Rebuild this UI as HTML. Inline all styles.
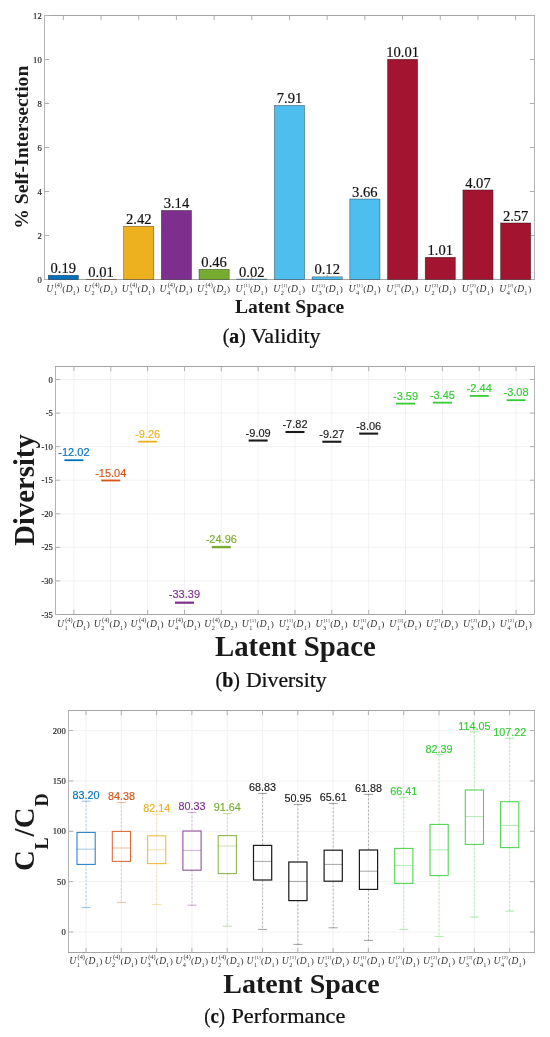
<!DOCTYPE html>
<html lang="en"><head><meta charset="utf-8"><title>Latent space comparison</title>
<style>html,body{margin:0;padding:0;background:#fff}svg{display:block}text{white-space:pre}</style>
</head><body>
<svg width="550" height="1037" viewBox="0 0 550 1037" font-family='"Liberation Serif", "DejaVu Serif", serif'>
<rect width="550" height="1037" fill="#fff"/>
<g id="c1">
<path d="M44.5 15.0V280.0M534.5 15.0V280.0" stroke="#b4b4b4" stroke-width="1" fill="none"/><path d="M44.0 15.5H535.0M44.0 279.5H535.0" stroke="#a4a4a4" stroke-width="1" fill="none"/>
<path d="M63.35 279.5v-4.7M63.35 15.5v4.7M101.04 279.5v-4.7M101.04 15.5v4.7M138.73 279.5v-4.7M138.73 15.5v4.7M176.42 279.5v-4.7M176.42 15.5v4.7M214.12 279.5v-4.7M214.12 15.5v4.7M251.81 279.5v-4.7M251.81 15.5v4.7M289.50 279.5v-4.7M289.50 15.5v4.7M327.19 279.5v-4.7M327.19 15.5v4.7M364.88 279.5v-4.7M364.88 15.5v4.7M402.58 279.5v-4.7M402.58 15.5v4.7M440.27 279.5v-4.7M440.27 15.5v4.7M477.96 279.5v-4.7M477.96 15.5v4.7M515.65 279.5v-4.7M515.65 15.5v4.7M44.5 279.50h4.7M534.5 279.50h-4.7M44.5 235.50h4.7M534.5 235.50h-4.7M44.5 191.50h4.7M534.5 191.50h-4.7M44.5 147.50h4.7M534.5 147.50h-4.7M44.5 103.50h4.7M534.5 103.50h-4.7M44.5 59.50h4.7M534.5 59.50h-4.7M44.5 15.50h4.7M534.5 15.50h-4.7" stroke="#b0b0b0" stroke-width="1" fill="none"/>
<rect x="48.27" y="275.32" width="30.15" height="4.18" fill="#0072BD" stroke="#000" stroke-opacity="0.55" stroke-width="0.6"/>
<text x="63.35" y="272.92" font-size="14.6" text-anchor="middle" fill="#111" stroke="#111" stroke-width="0.2">0.19</text>
<rect x="85.96" y="279.28" width="30.15" height="0.22" fill="#D95319" stroke="#000" stroke-opacity="0.55" stroke-width="0.6"/>
<text x="101.04" y="276.88" font-size="14.6" text-anchor="middle" fill="#111" stroke="#111" stroke-width="0.2">0.01</text>
<rect x="123.65" y="226.26" width="30.15" height="53.24" fill="#EDB120" stroke="#000" stroke-opacity="0.55" stroke-width="0.6"/>
<text x="138.73" y="223.86" font-size="14.6" text-anchor="middle" fill="#111" stroke="#111" stroke-width="0.2">2.42</text>
<rect x="161.35" y="210.42" width="30.15" height="69.08" fill="#7E2F8E" stroke="#000" stroke-opacity="0.55" stroke-width="0.6"/>
<text x="176.42" y="208.02" font-size="14.6" text-anchor="middle" fill="#111" stroke="#111" stroke-width="0.2">3.14</text>
<rect x="199.04" y="269.38" width="30.15" height="10.12" fill="#77AC30" stroke="#000" stroke-opacity="0.55" stroke-width="0.6"/>
<text x="214.12" y="266.98" font-size="14.6" text-anchor="middle" fill="#111" stroke="#111" stroke-width="0.2">0.46</text>
<rect x="236.73" y="279.06" width="30.15" height="0.44" fill="#4DBEEE" stroke="#000" stroke-opacity="0.55" stroke-width="0.6"/>
<text x="251.81" y="276.66" font-size="14.6" text-anchor="middle" fill="#111" stroke="#111" stroke-width="0.2">0.02</text>
<rect x="274.42" y="105.48" width="30.15" height="174.02" fill="#4DBEEE" stroke="#000" stroke-opacity="0.55" stroke-width="0.6"/>
<text x="289.50" y="103.08" font-size="14.6" text-anchor="middle" fill="#111" stroke="#111" stroke-width="0.2">7.91</text>
<rect x="312.12" y="276.86" width="30.15" height="2.64" fill="#4DBEEE" stroke="#000" stroke-opacity="0.55" stroke-width="0.6"/>
<text x="327.19" y="274.46" font-size="14.6" text-anchor="middle" fill="#111" stroke="#111" stroke-width="0.2">0.12</text>
<rect x="349.81" y="198.98" width="30.15" height="80.52" fill="#4DBEEE" stroke="#000" stroke-opacity="0.55" stroke-width="0.6"/>
<text x="364.88" y="196.58" font-size="14.6" text-anchor="middle" fill="#111" stroke="#111" stroke-width="0.2">3.66</text>
<rect x="387.50" y="59.28" width="30.15" height="220.22" fill="#A2142F" stroke="#000" stroke-opacity="0.55" stroke-width="0.6"/>
<text x="402.58" y="56.88" font-size="14.6" text-anchor="middle" fill="#111" stroke="#111" stroke-width="0.2">10.01</text>
<rect x="425.19" y="257.28" width="30.15" height="22.22" fill="#A2142F" stroke="#000" stroke-opacity="0.55" stroke-width="0.6"/>
<text x="440.27" y="254.88" font-size="14.6" text-anchor="middle" fill="#111" stroke="#111" stroke-width="0.2">1.01</text>
<rect x="462.88" y="189.96" width="30.15" height="89.54" fill="#A2142F" stroke="#000" stroke-opacity="0.55" stroke-width="0.6"/>
<text x="477.96" y="187.56" font-size="14.6" text-anchor="middle" fill="#111" stroke="#111" stroke-width="0.2">4.07</text>
<rect x="500.58" y="222.96" width="30.15" height="56.54" fill="#A2142F" stroke="#000" stroke-opacity="0.55" stroke-width="0.6"/>
<text x="515.65" y="220.56" font-size="14.6" text-anchor="middle" fill="#111" stroke="#111" stroke-width="0.2">2.57</text>
<g fill="#262626" stroke="#262626" stroke-width="0.18">
<text x="41.70" y="282.50" font-size="8.6" text-anchor="end">0</text>
<text x="41.70" y="238.50" font-size="8.6" text-anchor="end">2</text>
<text x="41.70" y="194.50" font-size="8.6" text-anchor="end">4</text>
<text x="41.70" y="150.50" font-size="8.6" text-anchor="end">6</text>
<text x="41.70" y="106.50" font-size="8.6" text-anchor="end">8</text>
<text x="41.70" y="62.50" font-size="8.6" text-anchor="end">10</text>
<text x="41.70" y="18.50" font-size="8.6" text-anchor="end">12</text>
<g stroke="none" fill="#303030"><text x="46.35" y="292.30" font-size="9.6" font-style="italic">U</text><text x="53.85" y="294.60" font-size="6.3">1</text><text x="54.65" y="286.70" font-size="6.3">(4)</text><text x="62.15" y="292.30" font-size="9.2">(</text><text x="65.65" y="292.30" font-size="9.5" font-style="italic">D</text><text x="72.55" y="294.60" font-size="6.3">1</text><text x="76.25" y="292.30" font-size="9.2">)</text></g>
<g stroke="none" fill="#303030"><text x="84.04" y="292.30" font-size="9.6" font-style="italic">U</text><text x="91.54" y="294.60" font-size="6.3">2</text><text x="92.34" y="286.70" font-size="6.3">(4)</text><text x="99.84" y="292.30" font-size="9.2">(</text><text x="103.34" y="292.30" font-size="9.5" font-style="italic">D</text><text x="110.24" y="294.60" font-size="6.3">1</text><text x="113.94" y="292.30" font-size="9.2">)</text></g>
<g stroke="none" fill="#303030"><text x="121.73" y="292.30" font-size="9.6" font-style="italic">U</text><text x="129.23" y="294.60" font-size="6.3">3</text><text x="130.03" y="286.70" font-size="6.3">(4)</text><text x="137.53" y="292.30" font-size="9.2">(</text><text x="141.03" y="292.30" font-size="9.5" font-style="italic">D</text><text x="147.93" y="294.60" font-size="6.3">1</text><text x="151.63" y="292.30" font-size="9.2">)</text></g>
<g stroke="none" fill="#303030"><text x="159.42" y="292.30" font-size="9.6" font-style="italic">U</text><text x="166.92" y="294.60" font-size="6.3">4</text><text x="167.72" y="286.70" font-size="6.3">(4)</text><text x="175.22" y="292.30" font-size="9.2">(</text><text x="178.72" y="292.30" font-size="9.5" font-style="italic">D</text><text x="185.62" y="294.60" font-size="6.3">1</text><text x="189.32" y="292.30" font-size="9.2">)</text></g>
<g stroke="none" fill="#303030"><text x="197.12" y="292.30" font-size="9.6" font-style="italic">U</text><text x="204.62" y="294.60" font-size="6.3">2</text><text x="205.42" y="286.70" font-size="6.3">(4)</text><text x="212.92" y="292.30" font-size="9.2">(</text><text x="216.42" y="292.30" font-size="9.5" font-style="italic">D</text><text x="223.32" y="294.60" font-size="6.3">2</text><text x="227.02" y="292.30" font-size="9.2">)</text></g>
<g stroke="none" fill="#303030"><text x="235.51" y="292.30" font-size="9.6" font-style="italic">U</text><text x="243.01" y="294.60" font-size="6.3">1</text><text x="243.81" y="286.70" font-size="5.0">[1]</text><text x="250.11" y="292.30" font-size="9.2">(</text><text x="253.41" y="292.30" font-size="9.5" font-style="italic">D</text><text x="260.51" y="294.60" font-size="6.3">1</text><text x="264.41" y="292.30" font-size="9.2">)</text></g>
<g stroke="none" fill="#303030"><text x="273.20" y="292.30" font-size="9.6" font-style="italic">U</text><text x="280.70" y="294.60" font-size="6.3">2</text><text x="281.50" y="286.70" font-size="5.0">[1]</text><text x="287.80" y="292.30" font-size="9.2">(</text><text x="291.10" y="292.30" font-size="9.5" font-style="italic">D</text><text x="298.20" y="294.60" font-size="6.3">1</text><text x="302.10" y="292.30" font-size="9.2">)</text></g>
<g stroke="none" fill="#303030"><text x="310.89" y="292.30" font-size="9.6" font-style="italic">U</text><text x="318.39" y="294.60" font-size="6.3">3</text><text x="319.19" y="286.70" font-size="5.0">[1]</text><text x="325.49" y="292.30" font-size="9.2">(</text><text x="328.79" y="292.30" font-size="9.5" font-style="italic">D</text><text x="335.89" y="294.60" font-size="6.3">1</text><text x="339.79" y="292.30" font-size="9.2">)</text></g>
<g stroke="none" fill="#303030"><text x="348.58" y="292.30" font-size="9.6" font-style="italic">U</text><text x="356.08" y="294.60" font-size="6.3">4</text><text x="356.88" y="286.70" font-size="5.0">[1]</text><text x="363.18" y="292.30" font-size="9.2">(</text><text x="366.48" y="292.30" font-size="9.5" font-style="italic">D</text><text x="373.58" y="294.60" font-size="6.3">1</text><text x="377.48" y="292.30" font-size="9.2">)</text></g>
<g stroke="none" fill="#303030"><text x="386.28" y="292.30" font-size="9.6" font-style="italic">U</text><text x="393.78" y="294.60" font-size="6.3">1</text><text x="394.58" y="286.70" font-size="5.0">[2]</text><text x="400.88" y="292.30" font-size="9.2">(</text><text x="404.18" y="292.30" font-size="9.5" font-style="italic">D</text><text x="411.28" y="294.60" font-size="6.3">1</text><text x="415.18" y="292.30" font-size="9.2">)</text></g>
<g stroke="none" fill="#303030"><text x="423.97" y="292.30" font-size="9.6" font-style="italic">U</text><text x="431.47" y="294.60" font-size="6.3">2</text><text x="432.27" y="286.70" font-size="5.0">[2]</text><text x="438.57" y="292.30" font-size="9.2">(</text><text x="441.87" y="292.30" font-size="9.5" font-style="italic">D</text><text x="448.97" y="294.60" font-size="6.3">1</text><text x="452.87" y="292.30" font-size="9.2">)</text></g>
<g stroke="none" fill="#303030"><text x="461.66" y="292.30" font-size="9.6" font-style="italic">U</text><text x="469.16" y="294.60" font-size="6.3">3</text><text x="469.96" y="286.70" font-size="5.0">[2]</text><text x="476.26" y="292.30" font-size="9.2">(</text><text x="479.56" y="292.30" font-size="9.5" font-style="italic">D</text><text x="486.66" y="294.60" font-size="6.3">1</text><text x="490.56" y="292.30" font-size="9.2">)</text></g>
<g stroke="none" fill="#303030"><text x="499.35" y="292.30" font-size="9.6" font-style="italic">U</text><text x="506.85" y="294.60" font-size="6.3">4</text><text x="507.65" y="286.70" font-size="5.0">[2]</text><text x="513.95" y="292.30" font-size="9.2">(</text><text x="517.25" y="292.30" font-size="9.5" font-style="italic">D</text><text x="524.35" y="294.60" font-size="6.3">1</text><text x="528.25" y="292.30" font-size="9.2">)</text></g>
</g>
<text transform="translate(28.4,147.2) rotate(-90)" font-size="19.65" font-weight="bold" text-anchor="middle" fill="#1a1a1a">% Self-Intersection</text>
<text x="289.6" y="312.6" font-size="19.6" font-weight="bold" text-anchor="middle" fill="#1a1a1a">Latent Space</text>
<text transform="translate(222.70,342.70) scale(0.9721,1)" font-size="20.3" fill="#111" stroke="#111" stroke-width="0.25">(<tspan font-weight="bold">a</tspan>)</text>
<text transform="translate(250.90,342.70) scale(1.0855,1)" font-size="20.3" fill="#111" stroke="#111" stroke-width="0.25">Validity</text>
</g>
<g id="c2">
<path d="M73.92 366.5V614.5M110.77 366.5V614.5M147.62 366.5V614.5M184.46 366.5V614.5M221.31 366.5V614.5M258.15 366.5V614.5M295.00 366.5V614.5M331.85 366.5V614.5M368.69 366.5V614.5M405.54 366.5V614.5M442.38 366.5V614.5M479.23 366.5V614.5M516.08 366.5V614.5M55.5 379.50H534.5M55.5 413.07H534.5M55.5 446.64H534.5M55.5 480.21H534.5M55.5 513.79H534.5M55.5 547.36H534.5M55.5 580.93H534.5M55.5 614.50H534.5" stroke="#f0f0f0" stroke-width="0.9" fill="none"/>
<path d="M55.5 366.0V615.0M534.5 366.0V615.0" stroke="#b4b4b4" stroke-width="1" fill="none"/><path d="M55.0 366.5H535.0M55.0 614.5H535.0" stroke="#a4a4a4" stroke-width="1" fill="none"/>
<path d="M73.92 614.5v-4.7M73.92 366.5v4.7M110.77 614.5v-4.7M110.77 366.5v4.7M147.62 614.5v-4.7M147.62 366.5v4.7M184.46 614.5v-4.7M184.46 366.5v4.7M221.31 614.5v-4.7M221.31 366.5v4.7M258.15 614.5v-4.7M258.15 366.5v4.7M295.00 614.5v-4.7M295.00 366.5v4.7M331.85 614.5v-4.7M331.85 366.5v4.7M368.69 614.5v-4.7M368.69 366.5v4.7M405.54 614.5v-4.7M405.54 366.5v4.7M442.38 614.5v-4.7M442.38 366.5v4.7M479.23 614.5v-4.7M479.23 366.5v4.7M516.08 614.5v-4.7M516.08 366.5v4.7M55.5 379.50h4.7M534.5 379.50h-4.7M55.5 413.07h4.7M534.5 413.07h-4.7M55.5 446.64h4.7M534.5 446.64h-4.7M55.5 480.21h4.7M534.5 480.21h-4.7M55.5 513.79h4.7M534.5 513.79h-4.7M55.5 547.36h4.7M534.5 547.36h-4.7M55.5 580.93h4.7M534.5 580.93h-4.7M55.5 614.50h4.7M534.5 614.50h-4.7" stroke="#b0b0b0" stroke-width="1" fill="none"/>
<line x1="64.42" x2="83.42" y1="460.21" y2="460.21" stroke="#0072BD" stroke-width="1.8"/>
<text x="73.92" y="456.41" font-family='"Liberation Sans", "DejaVu Sans", sans-serif' font-size="11" text-anchor="middle" fill="#0072BD" stroke="#0072BD" stroke-width="0.15">-12.02</text>
<line x1="101.27" x2="120.27" y1="480.48" y2="480.48" stroke="#D95319" stroke-width="1.8"/>
<text x="110.77" y="476.68" font-family='"Liberation Sans", "DejaVu Sans", sans-serif' font-size="11" text-anchor="middle" fill="#D95319" stroke="#D95319" stroke-width="0.15">-15.04</text>
<line x1="138.12" x2="157.12" y1="441.67" y2="441.67" stroke="#EDB120" stroke-width="1.8"/>
<text x="147.62" y="437.87" font-family='"Liberation Sans", "DejaVu Sans", sans-serif' font-size="11" text-anchor="middle" fill="#EDB120" stroke="#EDB120" stroke-width="0.15">-9.26</text>
<line x1="174.96" x2="193.96" y1="602.69" y2="602.69" stroke="#7E2F8E" stroke-width="2.2"/>
<text x="184.46" y="598.39" font-family='"Liberation Sans", "DejaVu Sans", sans-serif' font-size="11" text-anchor="middle" fill="#7E2F8E" stroke="#7E2F8E" stroke-width="0.15">-33.39</text>
<line x1="211.81" x2="230.81" y1="547.09" y2="547.09" stroke="#77AC30" stroke-width="2.4"/>
<text x="221.31" y="543.29" font-family='"Liberation Sans", "DejaVu Sans", sans-serif' font-size="11" text-anchor="middle" fill="#77AC30" stroke="#77AC30" stroke-width="0.15">-24.96</text>
<line x1="248.65" x2="267.65" y1="440.53" y2="440.53" stroke="#1a1a1a" stroke-width="2.1"/>
<text x="258.15" y="436.73" font-family='"Liberation Sans", "DejaVu Sans", sans-serif' font-size="11" text-anchor="middle" fill="#1a1a1a" stroke="#1a1a1a" stroke-width="0.15">-9.09</text>
<line x1="285.50" x2="304.50" y1="432.01" y2="432.01" stroke="#1a1a1a" stroke-width="2.1"/>
<text x="295.00" y="428.21" font-family='"Liberation Sans", "DejaVu Sans", sans-serif' font-size="11" text-anchor="middle" fill="#1a1a1a" stroke="#1a1a1a" stroke-width="0.15">-7.82</text>
<line x1="322.35" x2="341.35" y1="441.74" y2="441.74" stroke="#1a1a1a" stroke-width="2.1"/>
<text x="331.85" y="437.94" font-family='"Liberation Sans", "DejaVu Sans", sans-serif' font-size="11" text-anchor="middle" fill="#1a1a1a" stroke="#1a1a1a" stroke-width="0.15">-9.27</text>
<line x1="359.19" x2="378.19" y1="433.62" y2="433.62" stroke="#1a1a1a" stroke-width="2.1"/>
<text x="368.69" y="429.82" font-family='"Liberation Sans", "DejaVu Sans", sans-serif' font-size="11" text-anchor="middle" fill="#1a1a1a" stroke="#1a1a1a" stroke-width="0.15">-8.06</text>
<line x1="396.04" x2="415.04" y1="403.60" y2="403.60" stroke="#33CC33" stroke-width="1.8"/>
<text x="405.54" y="399.80" font-family='"Liberation Sans", "DejaVu Sans", sans-serif' font-size="11" text-anchor="middle" fill="#33CC33" stroke="#33CC33" stroke-width="0.15">-3.59</text>
<line x1="432.88" x2="451.88" y1="402.66" y2="402.66" stroke="#33CC33" stroke-width="1.8"/>
<text x="442.38" y="398.86" font-family='"Liberation Sans", "DejaVu Sans", sans-serif' font-size="11" text-anchor="middle" fill="#33CC33" stroke="#33CC33" stroke-width="0.15">-3.45</text>
<line x1="469.73" x2="488.73" y1="395.88" y2="395.88" stroke="#33CC33" stroke-width="1.8"/>
<text x="479.23" y="392.08" font-family='"Liberation Sans", "DejaVu Sans", sans-serif' font-size="11" text-anchor="middle" fill="#33CC33" stroke="#33CC33" stroke-width="0.15">-2.44</text>
<line x1="506.58" x2="525.58" y1="400.18" y2="400.18" stroke="#33CC33" stroke-width="1.8"/>
<text x="516.08" y="396.38" font-family='"Liberation Sans", "DejaVu Sans", sans-serif' font-size="11" text-anchor="middle" fill="#33CC33" stroke="#33CC33" stroke-width="0.15">-3.08</text>
<g fill="#262626" stroke="#262626" stroke-width="0.18">
<text x="52.90" y="382.50" font-size="8.6" text-anchor="end">0</text>
<text x="52.90" y="416.07" font-size="8.6" text-anchor="end">-5</text>
<text x="52.90" y="449.64" font-size="8.6" text-anchor="end">-10</text>
<text x="52.90" y="483.21" font-size="8.6" text-anchor="end">-15</text>
<text x="52.90" y="516.79" font-size="8.6" text-anchor="end">-20</text>
<text x="52.90" y="550.36" font-size="8.6" text-anchor="end">-25</text>
<text x="52.90" y="583.93" font-size="8.6" text-anchor="end">-30</text>
<text x="52.90" y="617.50" font-size="8.6" text-anchor="end">-35</text>
<g stroke="none" fill="#303030"><text x="56.92" y="627.20" font-size="9.6" font-style="italic">U</text><text x="64.42" y="629.50" font-size="6.3">1</text><text x="65.22" y="621.60" font-size="6.3">(4)</text><text x="72.72" y="627.20" font-size="9.2">(</text><text x="76.22" y="627.20" font-size="9.5" font-style="italic">D</text><text x="83.12" y="629.50" font-size="6.3">1</text><text x="86.82" y="627.20" font-size="9.2">)</text></g>
<g stroke="none" fill="#303030"><text x="93.77" y="627.20" font-size="9.6" font-style="italic">U</text><text x="101.27" y="629.50" font-size="6.3">2</text><text x="102.07" y="621.60" font-size="6.3">(4)</text><text x="109.57" y="627.20" font-size="9.2">(</text><text x="113.07" y="627.20" font-size="9.5" font-style="italic">D</text><text x="119.97" y="629.50" font-size="6.3">1</text><text x="123.67" y="627.20" font-size="9.2">)</text></g>
<g stroke="none" fill="#303030"><text x="130.62" y="627.20" font-size="9.6" font-style="italic">U</text><text x="138.12" y="629.50" font-size="6.3">3</text><text x="138.92" y="621.60" font-size="6.3">(4)</text><text x="146.42" y="627.20" font-size="9.2">(</text><text x="149.92" y="627.20" font-size="9.5" font-style="italic">D</text><text x="156.82" y="629.50" font-size="6.3">1</text><text x="160.52" y="627.20" font-size="9.2">)</text></g>
<g stroke="none" fill="#303030"><text x="167.46" y="627.20" font-size="9.6" font-style="italic">U</text><text x="174.96" y="629.50" font-size="6.3">4</text><text x="175.76" y="621.60" font-size="6.3">(4)</text><text x="183.26" y="627.20" font-size="9.2">(</text><text x="186.76" y="627.20" font-size="9.5" font-style="italic">D</text><text x="193.66" y="629.50" font-size="6.3">1</text><text x="197.36" y="627.20" font-size="9.2">)</text></g>
<g stroke="none" fill="#303030"><text x="204.31" y="627.20" font-size="9.6" font-style="italic">U</text><text x="211.81" y="629.50" font-size="6.3">2</text><text x="212.61" y="621.60" font-size="6.3">(4)</text><text x="220.11" y="627.20" font-size="9.2">(</text><text x="223.61" y="627.20" font-size="9.5" font-style="italic">D</text><text x="230.51" y="629.50" font-size="6.3">2</text><text x="234.21" y="627.20" font-size="9.2">)</text></g>
<g stroke="none" fill="#303030"><text x="241.85" y="627.20" font-size="9.6" font-style="italic">U</text><text x="249.35" y="629.50" font-size="6.3">1</text><text x="250.15" y="621.60" font-size="5.0">[1]</text><text x="256.45" y="627.20" font-size="9.2">(</text><text x="259.75" y="627.20" font-size="9.5" font-style="italic">D</text><text x="266.85" y="629.50" font-size="6.3">1</text><text x="270.75" y="627.20" font-size="9.2">)</text></g>
<g stroke="none" fill="#303030"><text x="278.70" y="627.20" font-size="9.6" font-style="italic">U</text><text x="286.20" y="629.50" font-size="6.3">2</text><text x="287.00" y="621.60" font-size="5.0">[1]</text><text x="293.30" y="627.20" font-size="9.2">(</text><text x="296.60" y="627.20" font-size="9.5" font-style="italic">D</text><text x="303.70" y="629.50" font-size="6.3">1</text><text x="307.60" y="627.20" font-size="9.2">)</text></g>
<g stroke="none" fill="#303030"><text x="315.55" y="627.20" font-size="9.6" font-style="italic">U</text><text x="323.05" y="629.50" font-size="6.3">3</text><text x="323.85" y="621.60" font-size="5.0">[1]</text><text x="330.15" y="627.20" font-size="9.2">(</text><text x="333.45" y="627.20" font-size="9.5" font-style="italic">D</text><text x="340.55" y="629.50" font-size="6.3">1</text><text x="344.45" y="627.20" font-size="9.2">)</text></g>
<g stroke="none" fill="#303030"><text x="352.39" y="627.20" font-size="9.6" font-style="italic">U</text><text x="359.89" y="629.50" font-size="6.3">4</text><text x="360.69" y="621.60" font-size="5.0">[1]</text><text x="366.99" y="627.20" font-size="9.2">(</text><text x="370.29" y="627.20" font-size="9.5" font-style="italic">D</text><text x="377.39" y="629.50" font-size="6.3">1</text><text x="381.29" y="627.20" font-size="9.2">)</text></g>
<g stroke="none" fill="#303030"><text x="389.24" y="627.20" font-size="9.6" font-style="italic">U</text><text x="396.74" y="629.50" font-size="6.3">1</text><text x="397.54" y="621.60" font-size="5.0">[2]</text><text x="403.84" y="627.20" font-size="9.2">(</text><text x="407.14" y="627.20" font-size="9.5" font-style="italic">D</text><text x="414.24" y="629.50" font-size="6.3">1</text><text x="418.14" y="627.20" font-size="9.2">)</text></g>
<g stroke="none" fill="#303030"><text x="426.08" y="627.20" font-size="9.6" font-style="italic">U</text><text x="433.58" y="629.50" font-size="6.3">2</text><text x="434.38" y="621.60" font-size="5.0">[2]</text><text x="440.68" y="627.20" font-size="9.2">(</text><text x="443.98" y="627.20" font-size="9.5" font-style="italic">D</text><text x="451.08" y="629.50" font-size="6.3">1</text><text x="454.98" y="627.20" font-size="9.2">)</text></g>
<g stroke="none" fill="#303030"><text x="462.93" y="627.20" font-size="9.6" font-style="italic">U</text><text x="470.43" y="629.50" font-size="6.3">3</text><text x="471.23" y="621.60" font-size="5.0">[2]</text><text x="477.53" y="627.20" font-size="9.2">(</text><text x="480.83" y="627.20" font-size="9.5" font-style="italic">D</text><text x="487.93" y="629.50" font-size="6.3">1</text><text x="491.83" y="627.20" font-size="9.2">)</text></g>
<g stroke="none" fill="#303030"><text x="499.78" y="627.20" font-size="9.6" font-style="italic">U</text><text x="507.28" y="629.50" font-size="6.3">4</text><text x="508.08" y="621.60" font-size="5.0">[2]</text><text x="514.38" y="627.20" font-size="9.2">(</text><text x="517.68" y="627.20" font-size="9.5" font-style="italic">D</text><text x="524.78" y="629.50" font-size="6.3">1</text><text x="528.68" y="627.20" font-size="9.2">)</text></g>
</g>
<text transform="translate(33.6,490) rotate(-90)" font-size="28.7" font-weight="bold" text-anchor="middle" fill="#1a1a1a">Diversity</text>
<text x="295.4" y="656" font-size="28.8" font-weight="bold" text-anchor="middle" fill="#1a1a1a">Latent Space</text>
<text transform="translate(215.60,686.80) scale(0.9839,1)" font-size="20.3" fill="#111" stroke="#111" stroke-width="0.25">(<tspan font-weight="bold">b</tspan>)</text>
<text transform="translate(245.90,686.80) scale(1.0693,1)" font-size="20.3" fill="#111" stroke="#111" stroke-width="0.25">Diversity</text>
</g>
<g id="c3">
<path d="M86.00 710.5V952.5M121.30 710.5V952.5M156.60 710.5V952.5M191.90 710.5V952.5M227.20 710.5V952.5M262.50 710.5V952.5M297.80 710.5V952.5M333.10 710.5V952.5M368.40 710.5V952.5M403.70 710.5V952.5M439.00 710.5V952.5M474.30 710.5V952.5M509.60 710.5V952.5M68.5 932.00H534.5M68.5 881.65H534.5M68.5 831.30H534.5M68.5 780.95H534.5M68.5 730.60H534.5" stroke="#f0f0f0" stroke-width="0.9" fill="none"/>
<path d="M68.5 710.0V953.0M534.5 710.0V953.0" stroke="#b4b4b4" stroke-width="1" fill="none"/><path d="M68.0 710.5H535.0M68.0 952.5H535.0" stroke="#a4a4a4" stroke-width="1" fill="none"/>
<path d="M86.00 952.5v-4.7M86.00 710.5v4.7M121.30 952.5v-4.7M121.30 710.5v4.7M156.60 952.5v-4.7M156.60 710.5v4.7M191.90 952.5v-4.7M191.90 710.5v4.7M227.20 952.5v-4.7M227.20 710.5v4.7M262.50 952.5v-4.7M262.50 710.5v4.7M297.80 952.5v-4.7M297.80 710.5v4.7M333.10 952.5v-4.7M333.10 710.5v4.7M368.40 952.5v-4.7M368.40 710.5v4.7M403.70 952.5v-4.7M403.70 710.5v4.7M439.00 952.5v-4.7M439.00 710.5v4.7M474.30 952.5v-4.7M474.30 710.5v4.7M509.60 952.5v-4.7M509.60 710.5v4.7M68.5 932.00h4.7M534.5 932.00h-4.7M68.5 881.65h4.7M534.5 881.65h-4.7M68.5 831.30h4.7M534.5 831.30h-4.7M68.5 780.95h4.7M534.5 780.95h-4.7M68.5 730.60h4.7M534.5 730.60h-4.7" stroke="#b0b0b0" stroke-width="1" fill="none"/>
<path d="M86.10 801.2V832.4M86.10 864.4V907.6" stroke="#0072BD" stroke-width="0.7" stroke-dasharray="2.2 1.6" stroke-opacity="0.42" fill="none"/>
<path d="M81.60 801.2h9M81.60 907.6h9" stroke="#0072BD" stroke-width="0.7" stroke-opacity="0.6" fill="none"/>
<rect x="77.00" y="832.4" width="18.20" height="32.00" fill="none" stroke="#0072BD" stroke-width="1.05" stroke-opacity="0.88"/>
<path d="M77.00 849.2h18.20" stroke="#0072BD" stroke-width="0.7" stroke-opacity="0.55" fill="none"/>
<text x="86.10" y="799.20" font-family='"Liberation Sans", "DejaVu Sans", sans-serif' font-size="10.8" text-anchor="middle" fill="#0072BD" stroke="#0072BD" stroke-width="0.15">83.20</text>
<path d="M121.40 802.4V831.4M121.40 861.4V902.4" stroke="#D95319" stroke-width="0.7" stroke-dasharray="2.2 1.6" stroke-opacity="0.42" fill="none"/>
<path d="M116.90 802.4h9M116.90 902.4h9" stroke="#D95319" stroke-width="0.7" stroke-opacity="0.6" fill="none"/>
<rect x="112.30" y="831.4" width="18.20" height="30.00" fill="none" stroke="#D95319" stroke-width="1.05" stroke-opacity="0.88"/>
<path d="M112.30 848.0h18.20" stroke="#D95319" stroke-width="0.7" stroke-opacity="0.55" fill="none"/>
<text x="121.40" y="800.20" font-family='"Liberation Sans", "DejaVu Sans", sans-serif' font-size="10.8" text-anchor="middle" fill="#D95319" stroke="#D95319" stroke-width="0.15">84.38</text>
<path d="M156.70 814.2V835.8M156.70 863.6V904.6" stroke="#EDB120" stroke-width="0.7" stroke-dasharray="2.2 1.6" stroke-opacity="0.42" fill="none"/>
<path d="M152.20 814.2h9M152.20 904.6h9" stroke="#EDB120" stroke-width="0.7" stroke-opacity="0.6" fill="none"/>
<rect x="147.60" y="835.8" width="18.20" height="27.80" fill="none" stroke="#EDB120" stroke-width="1.05" stroke-opacity="0.88"/>
<path d="M147.60 849.8h18.20" stroke="#EDB120" stroke-width="0.7" stroke-opacity="0.55" fill="none"/>
<text x="156.70" y="811.80" font-family='"Liberation Sans", "DejaVu Sans", sans-serif' font-size="10.8" text-anchor="middle" fill="#EDB120" stroke="#EDB120" stroke-width="0.15">82.14</text>
<path d="M192.00 812.4V831.0M192.00 870.2V905.2" stroke="#7E2F8E" stroke-width="0.7" stroke-dasharray="2.2 1.6" stroke-opacity="0.42" fill="none"/>
<path d="M187.50 812.4h9M187.50 905.2h9" stroke="#7E2F8E" stroke-width="0.7" stroke-opacity="0.6" fill="none"/>
<rect x="182.90" y="831.0" width="18.20" height="39.20" fill="none" stroke="#7E2F8E" stroke-width="1.05" stroke-opacity="0.88"/>
<path d="M182.90 850.4h18.20" stroke="#7E2F8E" stroke-width="0.7" stroke-opacity="0.55" fill="none"/>
<text x="192.00" y="810.20" font-family='"Liberation Sans", "DejaVu Sans", sans-serif' font-size="10.8" text-anchor="middle" fill="#7E2F8E" stroke="#7E2F8E" stroke-width="0.15">80.33</text>
<path d="M227.30 813.6V835.6M227.30 873.6V926.2" stroke="#77AC30" stroke-width="0.7" stroke-dasharray="2.2 1.6" stroke-opacity="0.42" fill="none"/>
<path d="M222.80 813.6h9M222.80 926.2h9" stroke="#77AC30" stroke-width="0.7" stroke-opacity="0.6" fill="none"/>
<rect x="218.20" y="835.6" width="18.20" height="38.00" fill="none" stroke="#77AC30" stroke-width="1.05" stroke-opacity="0.88"/>
<path d="M218.20 846.0h18.20" stroke="#77AC30" stroke-width="0.7" stroke-opacity="0.55" fill="none"/>
<text x="227.30" y="811.20" font-family='"Liberation Sans", "DejaVu Sans", sans-serif' font-size="10.8" text-anchor="middle" fill="#77AC30" stroke="#77AC30" stroke-width="0.15">91.64</text>
<path d="M262.60 793.4V845.4M262.60 880.0V929.4" stroke="#1a1a1a" stroke-width="0.7" stroke-dasharray="2.2 1.6" stroke-opacity="0.42" fill="none"/>
<path d="M258.10 793.4h9M258.10 929.4h9" stroke="#1a1a1a" stroke-width="0.7" stroke-opacity="0.6" fill="none"/>
<rect x="253.50" y="845.4" width="18.20" height="34.60" fill="none" stroke="#1a1a1a" stroke-width="1.2" stroke-opacity="1"/>
<path d="M253.50 861.4h18.20" stroke="#1a1a1a" stroke-width="0.7" stroke-opacity="0.55" fill="none"/>
<text x="262.60" y="791.20" font-family='"Liberation Sans", "DejaVu Sans", sans-serif' font-size="10.8" text-anchor="middle" fill="#1a1a1a" stroke="#1a1a1a" stroke-width="0.15">68.83</text>
<path d="M297.90 804.4V862.0M297.90 900.6V944.4" stroke="#1a1a1a" stroke-width="0.7" stroke-dasharray="2.2 1.6" stroke-opacity="0.42" fill="none"/>
<path d="M293.40 804.4h9M293.40 944.4h9" stroke="#1a1a1a" stroke-width="0.7" stroke-opacity="0.6" fill="none"/>
<rect x="288.80" y="862.0" width="18.20" height="38.60" fill="none" stroke="#1a1a1a" stroke-width="1.2" stroke-opacity="1"/>
<path d="M288.80 881.4h18.20" stroke="#1a1a1a" stroke-width="0.7" stroke-opacity="0.55" fill="none"/>
<text x="297.90" y="802.40" font-family='"Liberation Sans", "DejaVu Sans", sans-serif' font-size="10.8" text-anchor="middle" fill="#1a1a1a" stroke="#1a1a1a" stroke-width="0.15">50.95</text>
<path d="M333.20 803.4V850.2M333.20 881.2V927.8" stroke="#1a1a1a" stroke-width="0.7" stroke-dasharray="2.2 1.6" stroke-opacity="0.42" fill="none"/>
<path d="M328.70 803.4h9M328.70 927.8h9" stroke="#1a1a1a" stroke-width="0.7" stroke-opacity="0.6" fill="none"/>
<rect x="324.10" y="850.2" width="18.20" height="31.00" fill="none" stroke="#1a1a1a" stroke-width="1.2" stroke-opacity="1"/>
<path d="M324.10 864.4h18.20" stroke="#1a1a1a" stroke-width="0.7" stroke-opacity="0.55" fill="none"/>
<text x="333.20" y="801.40" font-family='"Liberation Sans", "DejaVu Sans", sans-serif' font-size="10.8" text-anchor="middle" fill="#1a1a1a" stroke="#1a1a1a" stroke-width="0.15">65.61</text>
<path d="M368.50 794.4V850.0M368.50 889.4V940.4" stroke="#1a1a1a" stroke-width="0.7" stroke-dasharray="2.2 1.6" stroke-opacity="0.42" fill="none"/>
<path d="M364.00 794.4h9M364.00 940.4h9" stroke="#1a1a1a" stroke-width="0.7" stroke-opacity="0.6" fill="none"/>
<rect x="359.40" y="850.0" width="18.20" height="39.40" fill="none" stroke="#1a1a1a" stroke-width="1.2" stroke-opacity="1"/>
<path d="M359.40 871.2h18.20" stroke="#1a1a1a" stroke-width="0.7" stroke-opacity="0.55" fill="none"/>
<text x="368.50" y="792.20" font-family='"Liberation Sans", "DejaVu Sans", sans-serif' font-size="10.8" text-anchor="middle" fill="#1a1a1a" stroke="#1a1a1a" stroke-width="0.15">61.88</text>
<path d="M403.80 797.4V848.4M403.80 883.4V929.4" stroke="#33CC33" stroke-width="0.7" stroke-dasharray="2.2 1.6" stroke-opacity="0.42" fill="none"/>
<path d="M399.30 797.4h9M399.30 929.4h9" stroke="#33CC33" stroke-width="0.7" stroke-opacity="0.6" fill="none"/>
<rect x="394.70" y="848.4" width="18.20" height="35.00" fill="none" stroke="#33CC33" stroke-width="1.05" stroke-opacity="0.88"/>
<path d="M394.70 865.6h18.20" stroke="#33CC33" stroke-width="0.7" stroke-opacity="0.55" fill="none"/>
<text x="403.80" y="795.20" font-family='"Liberation Sans", "DejaVu Sans", sans-serif' font-size="10.8" text-anchor="middle" fill="#33CC33" stroke="#33CC33" stroke-width="0.15">66.41</text>
<path d="M439.10 754.6V824.4M439.10 875.6V936.4" stroke="#33CC33" stroke-width="0.7" stroke-dasharray="2.2 1.6" stroke-opacity="0.42" fill="none"/>
<path d="M434.60 754.6h9M434.60 936.4h9" stroke="#33CC33" stroke-width="0.7" stroke-opacity="0.6" fill="none"/>
<rect x="430.00" y="824.4" width="18.20" height="51.20" fill="none" stroke="#33CC33" stroke-width="1.05" stroke-opacity="0.88"/>
<path d="M430.00 849.8h18.20" stroke="#33CC33" stroke-width="0.7" stroke-opacity="0.55" fill="none"/>
<text x="439.10" y="753.00" font-family='"Liberation Sans", "DejaVu Sans", sans-serif' font-size="10.8" text-anchor="middle" fill="#33CC33" stroke="#33CC33" stroke-width="0.15">82.39</text>
<path d="M474.40 731.8V790.0M474.40 844.4V917.0" stroke="#33CC33" stroke-width="0.7" stroke-dasharray="2.2 1.6" stroke-opacity="0.42" fill="none"/>
<path d="M469.90 731.8h9M469.90 917.0h9" stroke="#33CC33" stroke-width="0.7" stroke-opacity="0.6" fill="none"/>
<rect x="465.30" y="790.0" width="18.20" height="54.40" fill="none" stroke="#33CC33" stroke-width="1.05" stroke-opacity="0.88"/>
<path d="M465.30 816.6h18.20" stroke="#33CC33" stroke-width="0.7" stroke-opacity="0.55" fill="none"/>
<text x="474.40" y="729.60" font-family='"Liberation Sans", "DejaVu Sans", sans-serif' font-size="10.8" text-anchor="middle" fill="#33CC33" stroke="#33CC33" stroke-width="0.15">114.05</text>
<path d="M509.70 738.2V801.7M509.70 847.6V911.1" stroke="#33CC33" stroke-width="0.7" stroke-dasharray="2.2 1.6" stroke-opacity="0.42" fill="none"/>
<path d="M505.20 738.2h9M505.20 911.1h9" stroke="#33CC33" stroke-width="0.7" stroke-opacity="0.6" fill="none"/>
<rect x="500.60" y="801.7" width="18.20" height="45.90" fill="none" stroke="#33CC33" stroke-width="1.05" stroke-opacity="0.88"/>
<path d="M500.60 825.5h18.20" stroke="#33CC33" stroke-width="0.7" stroke-opacity="0.55" fill="none"/>
<text x="509.70" y="736.40" font-family='"Liberation Sans", "DejaVu Sans", sans-serif' font-size="10.8" text-anchor="middle" fill="#33CC33" stroke="#33CC33" stroke-width="0.15">107.22</text>
<g fill="#262626" stroke="#262626" stroke-width="0.18">
<text x="65.70" y="935.00" font-size="8.6" text-anchor="end">0</text>
<text x="65.70" y="884.65" font-size="8.6" text-anchor="end">50</text>
<text x="65.70" y="834.30" font-size="8.6" text-anchor="end">100</text>
<text x="65.70" y="783.95" font-size="8.6" text-anchor="end">150</text>
<text x="65.70" y="733.60" font-size="8.6" text-anchor="end">200</text>
<g stroke="none" fill="#303030"><text x="69.30" y="964.40" font-size="9.6" font-style="italic">U</text><text x="76.80" y="966.70" font-size="6.3">1</text><text x="77.60" y="958.80" font-size="6.3">(4)</text><text x="85.10" y="964.40" font-size="9.2">(</text><text x="88.60" y="964.40" font-size="9.5" font-style="italic">D</text><text x="95.50" y="966.70" font-size="6.3">1</text><text x="99.20" y="964.40" font-size="9.2">)</text></g>
<g stroke="none" fill="#303030"><text x="104.60" y="964.40" font-size="9.6" font-style="italic">U</text><text x="112.10" y="966.70" font-size="6.3">2</text><text x="112.90" y="958.80" font-size="6.3">(4)</text><text x="120.40" y="964.40" font-size="9.2">(</text><text x="123.90" y="964.40" font-size="9.5" font-style="italic">D</text><text x="130.80" y="966.70" font-size="6.3">1</text><text x="134.50" y="964.40" font-size="9.2">)</text></g>
<g stroke="none" fill="#303030"><text x="139.90" y="964.40" font-size="9.6" font-style="italic">U</text><text x="147.40" y="966.70" font-size="6.3">3</text><text x="148.20" y="958.80" font-size="6.3">(4)</text><text x="155.70" y="964.40" font-size="9.2">(</text><text x="159.20" y="964.40" font-size="9.5" font-style="italic">D</text><text x="166.10" y="966.70" font-size="6.3">1</text><text x="169.80" y="964.40" font-size="9.2">)</text></g>
<g stroke="none" fill="#303030"><text x="175.20" y="964.40" font-size="9.6" font-style="italic">U</text><text x="182.70" y="966.70" font-size="6.3">4</text><text x="183.50" y="958.80" font-size="6.3">(4)</text><text x="191.00" y="964.40" font-size="9.2">(</text><text x="194.50" y="964.40" font-size="9.5" font-style="italic">D</text><text x="201.40" y="966.70" font-size="6.3">1</text><text x="205.10" y="964.40" font-size="9.2">)</text></g>
<g stroke="none" fill="#303030"><text x="210.50" y="964.40" font-size="9.6" font-style="italic">U</text><text x="218.00" y="966.70" font-size="6.3">2</text><text x="218.80" y="958.80" font-size="6.3">(4)</text><text x="226.30" y="964.40" font-size="9.2">(</text><text x="229.80" y="964.40" font-size="9.5" font-style="italic">D</text><text x="236.70" y="966.70" font-size="6.3">2</text><text x="240.40" y="964.40" font-size="9.2">)</text></g>
<g stroke="none" fill="#303030"><text x="246.50" y="964.40" font-size="9.6" font-style="italic">U</text><text x="254.00" y="966.70" font-size="6.3">1</text><text x="254.80" y="958.80" font-size="5.0">[1]</text><text x="261.10" y="964.40" font-size="9.2">(</text><text x="264.40" y="964.40" font-size="9.5" font-style="italic">D</text><text x="271.50" y="966.70" font-size="6.3">1</text><text x="275.40" y="964.40" font-size="9.2">)</text></g>
<g stroke="none" fill="#303030"><text x="281.80" y="964.40" font-size="9.6" font-style="italic">U</text><text x="289.30" y="966.70" font-size="6.3">2</text><text x="290.10" y="958.80" font-size="5.0">[1]</text><text x="296.40" y="964.40" font-size="9.2">(</text><text x="299.70" y="964.40" font-size="9.5" font-style="italic">D</text><text x="306.80" y="966.70" font-size="6.3">1</text><text x="310.70" y="964.40" font-size="9.2">)</text></g>
<g stroke="none" fill="#303030"><text x="317.10" y="964.40" font-size="9.6" font-style="italic">U</text><text x="324.60" y="966.70" font-size="6.3">3</text><text x="325.40" y="958.80" font-size="5.0">[1]</text><text x="331.70" y="964.40" font-size="9.2">(</text><text x="335.00" y="964.40" font-size="9.5" font-style="italic">D</text><text x="342.10" y="966.70" font-size="6.3">1</text><text x="346.00" y="964.40" font-size="9.2">)</text></g>
<g stroke="none" fill="#303030"><text x="352.40" y="964.40" font-size="9.6" font-style="italic">U</text><text x="359.90" y="966.70" font-size="6.3">4</text><text x="360.70" y="958.80" font-size="5.0">[1]</text><text x="367.00" y="964.40" font-size="9.2">(</text><text x="370.30" y="964.40" font-size="9.5" font-style="italic">D</text><text x="377.40" y="966.70" font-size="6.3">1</text><text x="381.30" y="964.40" font-size="9.2">)</text></g>
<g stroke="none" fill="#303030"><text x="387.70" y="964.40" font-size="9.6" font-style="italic">U</text><text x="395.20" y="966.70" font-size="6.3">1</text><text x="396.00" y="958.80" font-size="5.0">[2]</text><text x="402.30" y="964.40" font-size="9.2">(</text><text x="405.60" y="964.40" font-size="9.5" font-style="italic">D</text><text x="412.70" y="966.70" font-size="6.3">1</text><text x="416.60" y="964.40" font-size="9.2">)</text></g>
<g stroke="none" fill="#303030"><text x="423.00" y="964.40" font-size="9.6" font-style="italic">U</text><text x="430.50" y="966.70" font-size="6.3">2</text><text x="431.30" y="958.80" font-size="5.0">[2]</text><text x="437.60" y="964.40" font-size="9.2">(</text><text x="440.90" y="964.40" font-size="9.5" font-style="italic">D</text><text x="448.00" y="966.70" font-size="6.3">1</text><text x="451.90" y="964.40" font-size="9.2">)</text></g>
<g stroke="none" fill="#303030"><text x="458.30" y="964.40" font-size="9.6" font-style="italic">U</text><text x="465.80" y="966.70" font-size="6.3">3</text><text x="466.60" y="958.80" font-size="5.0">[2]</text><text x="472.90" y="964.40" font-size="9.2">(</text><text x="476.20" y="964.40" font-size="9.5" font-style="italic">D</text><text x="483.30" y="966.70" font-size="6.3">1</text><text x="487.20" y="964.40" font-size="9.2">)</text></g>
<g stroke="none" fill="#303030"><text x="493.60" y="964.40" font-size="9.6" font-style="italic">U</text><text x="501.10" y="966.70" font-size="6.3">4</text><text x="501.90" y="958.80" font-size="5.0">[2]</text><text x="508.20" y="964.40" font-size="9.2">(</text><text x="511.50" y="964.40" font-size="9.5" font-style="italic">D</text><text x="518.60" y="966.70" font-size="6.3">1</text><text x="522.50" y="964.40" font-size="9.2">)</text></g>
</g>
<text transform="translate(34.4,871.0) rotate(-90)" font-size="28.8" font-weight="bold" fill="#1a1a1a">C<tspan font-size="18.2" dy="13.2" dx="0.6">L</tspan><tspan dy="-13.2" dx="1.1">/C</tspan><tspan font-size="18.2" dy="13.2" dx="1.1">D</tspan></text>
<text x="301.5" y="992.6" font-size="28.0" font-weight="bold" text-anchor="middle" fill="#1a1a1a">Latent Space</text>
<text transform="translate(204.30,1023.20) scale(0.9192,1)" font-size="20.3" fill="#111" stroke="#111" stroke-width="0.25">(<tspan font-weight="bold">c</tspan>)</text>
<text transform="translate(231.40,1023.20) scale(1.0995,1)" font-size="20.3" fill="#111" stroke="#111" stroke-width="0.25">Performance</text>
</g>
</svg>
</body></html>
